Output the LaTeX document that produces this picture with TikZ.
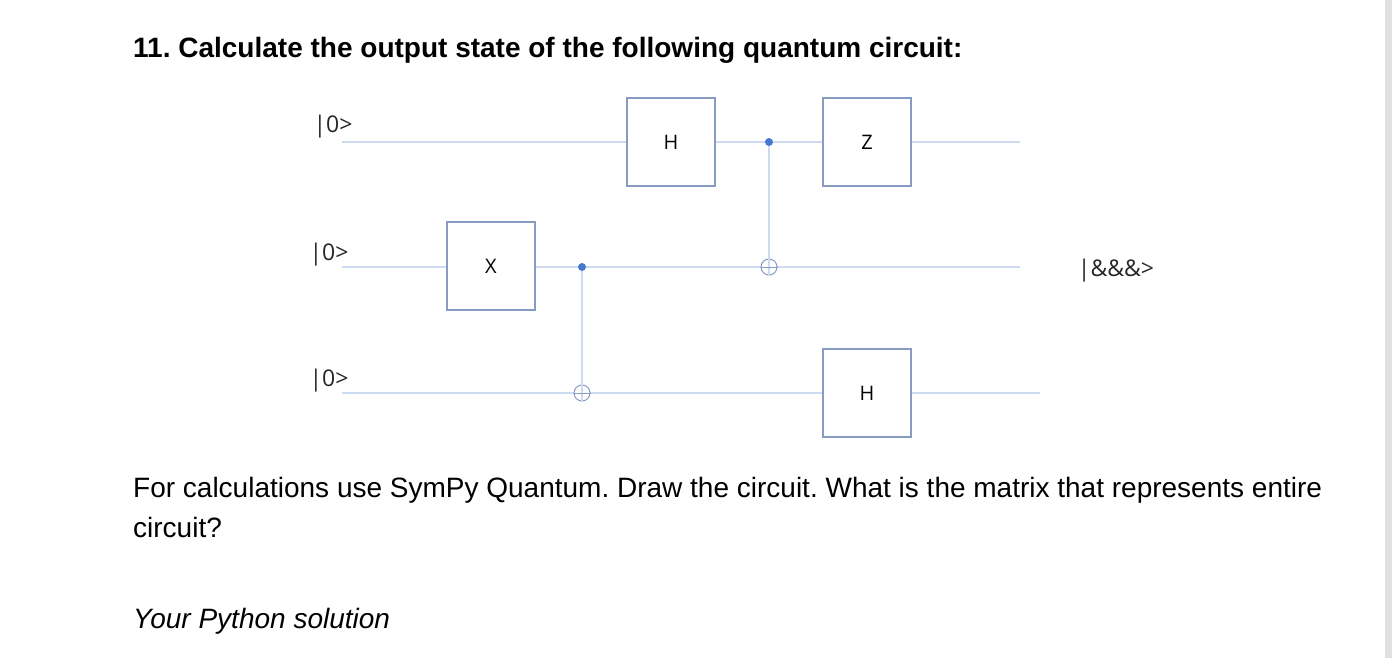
\documentclass[tikz,border=0pt]{standalone}
\usepackage{fontspec}
\setmainfont{Liberation Sans}
\newfontfamily\ketfont{Open Sans}
\frenchspacing
\begin{document}
\begin{tikzpicture}[x=1pt,y=-1pt,
  wire/.style={draw=wirec,line width=1.3pt},
  gate/.style={draw=boxc,fill=white,line width=1.3pt,minimum width=88pt,minimum height=88pt,inner sep=0pt,font=\ketfont\fontsize{20}{24}\selectfont},
  ctrl/.style={circle,fill=dotc,inner sep=0pt,minimum size=8pt},
  targ/.style={circle,draw=boxc,fill=white,line width=1pt,inner sep=0pt,minimum size=16pt},
  ket/.style={font=\ketfont\fontsize{23}{27}\selectfont,text=black!85,inner sep=0pt},
  body/.style={font=\fontsize{28}{33}\selectfont,anchor=base west,inner sep=0pt}]
\definecolor{wirec}{RGB}{205,218,240}
\definecolor{boxc}{RGB}{135,155,195}
\definecolor{dotc}{RGB}{70,120,210}
\useasboundingbox (0,0) rectangle (1392,658);
\fill[black!12] (1385,0) rectangle (1392,658);
\node[body,font=\bfseries\fontsize{28}{33}\selectfont] (title) at (133,58) {11. Calculate the output state of the following quantum circuit:};
% wires
\coordinate (a0) at (342,142); \coordinate (b0) at (1020,142);
\coordinate (a1) at (342,267); \coordinate (b1) at (1020,267);
\coordinate (a2) at (342,393); \coordinate (b2) at (1040,393);
\draw[wire] (a0) -- (b0); \draw[wire] (a1) -- (b1); \draw[wire] (a2) -- (b2);
\node[ket] (k0) at (333,127) {|0>};
\node[ket] (k1) at (329,255) {|0>};
\node[ket] (k2) at (329,381) {|0>};
% cnot 1
\node[ctrl] (c1) at (582,267) {};
\node[targ] (t1) at (582,393) {};
\draw[wire] (c1) -- (t1.south);
\draw[boxc,line width=1pt] (t1.west) -- (t1.east);
% cnot 2
\node[ctrl] (c2) at (769,142) {};
\node[targ] (t2) at (769,267) {};
\draw[wire] (c2) -- (t2.south);
\draw[boxc,line width=1pt] (t2.west) -- (t2.east);
% gates
\node[gate] (X) at (491,266) {X};
\node[gate] (H1) at (671,142) {H};
\node[gate] (Z) at (867,142) {Z};
\node[gate] (H2) at (867,393) {H};
\node[ket] (out) at (1116,271) {|\&\&\&>};
\node[body] (t1x) at (133,497) {For calculations use SymPy Quantum. Draw the circuit. What is the matrix that represents entire};
\node[body] (t2x) at (133,537) {circuit?};
\node[body,font=\itshape\fontsize{28}{33}\selectfont] (t3x) at (133,628) {Your Python solution};
\end{tikzpicture}
\end{document}
